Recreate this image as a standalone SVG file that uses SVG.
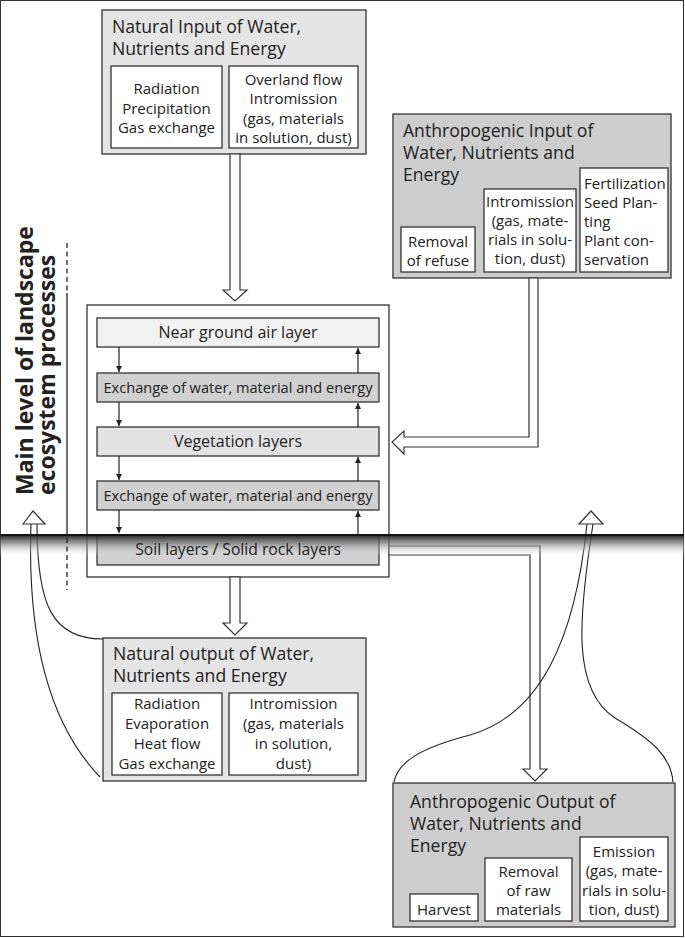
<svg xmlns="http://www.w3.org/2000/svg" width="685" height="938" viewBox="0 0 685 938">
<defs>
  <marker id="ah" viewBox="0 0 10 10" refX="10" refY="5" markerWidth="6" markerHeight="6" markerUnits="userSpaceOnUse" orient="auto">
    <path d="M0,0 L10,5 L0,10 Z" fill="#222"/>
  </marker>
  <linearGradient id="hz" x1="0" y1="0" x2="0" y2="1">
    <stop offset="0" stop-color="#2a2a2a" stop-opacity="0.95"/>
    <stop offset="0.35" stop-color="#777" stop-opacity="0.7"/>
    <stop offset="1" stop-color="#fff" stop-opacity="0"/>
  </linearGradient>
  <style>
    text{font-family:"Open Sans","Noto Sans","Liberation Sans",sans-serif;fill:#222}
    .ttl{font-size:17.6px}
    .in{font-size:15px}
    .c{text-anchor:middle}
    .lay{font-size:16px;text-anchor:middle}
    .ex{font-size:14.6px}
    .soil{font-size:15.7px}
    .bx{stroke:#333;stroke-width:1.3}
    .nat{fill:#e4e4e4}
    .ant{fill:#cdcdcd}
    .wh{fill:#fff}
    .air{fill:#f1f1f1}
    .exc{fill:#d0d0d0}
    .veg{fill:#e2e2e2}
    .ha{fill:#fff;stroke:#333;stroke-width:1.2}
    .cv{fill:none;stroke:#222;stroke-width:1.1}
    .sm{stroke:#222;stroke-width:1.2;fill:none}
    .side{font-size:23px;font-weight:bold}
  </style>
</defs>
<rect x="0.5" y="0.5" width="683" height="936" fill="#fff" stroke="#333" stroke-width="1"/>

<g id="natural-input">
  <rect class="bx nat" x="102" y="10" width="264" height="144"/>
  <text class="ttl" x="112" y="33">Natural Input of Water,</text>
  <text class="ttl" x="112" y="55">Nutrients and Energy</text>
  <rect class="bx wh" x="111" y="66" width="111" height="82"/>
  <text class="in c" x="166.5" y="94">Radiation</text>
  <text class="in c" x="166.5" y="113.5">Precipitation</text>
  <text class="in c" x="166.5" y="133">Gas exchange</text>
  <rect class="bx wh" x="229" y="66" width="129" height="82"/>
  <text class="in c" x="293.5" y="85">Overland flow</text>
  <text class="in c" x="293.5" y="104">Intromission</text>
  <text class="in c" x="293.5" y="123.5">(gas, materials</text>
  <text class="in c" x="293.5" y="143">in solution, dust)</text>
</g>

<g id="anthropogenic-input">
  <rect class="bx ant" x="393" y="114" width="278" height="164"/>
  <text class="ttl" x="403" y="137">Anthropogenic Input of</text>
  <text class="ttl" x="403" y="159">Water, Nutrients and</text>
  <text class="ttl" x="403" y="181">Energy</text>
  <rect class="bx wh" x="401" y="227" width="74" height="45"/>
  <text class="in c" x="438" y="247">Removal</text>
  <text class="in c" x="438" y="266">of refuse</text>
  <rect class="bx wh" x="484" y="189" width="92" height="83"/>
  <text class="in c" x="530" y="207">Intromission</text>
  <text class="in c" x="530" y="226">(gas, mate-</text>
  <text class="in c" x="530" y="245">rials in solu-</text>
  <text class="in c" x="530" y="264">tion, dust)</text>
  <rect class="bx wh" x="580" y="168" width="88" height="104"/>
  <text class="in" x="584" y="189">Fertilization</text>
  <text class="in" x="584" y="208">Seed Plan-</text>
  <text class="in" x="584" y="227">ting</text>
  <text class="in" x="584" y="246">Plant con-</text>
  <text class="in" x="584" y="265">servation</text>
</g>

<g id="landscape-layers">
  <rect class="bx wh" x="87" y="305" width="302" height="272"/>
  <g id="near-ground-air-layer">
    <rect class="bx air" x="97" y="318" width="282" height="29"/>
    <text class="lay" x="238" y="338">Near ground air layer</text>
  </g>
  <g id="exchange-upper">
    <rect class="bx exc" x="97" y="373" width="282" height="29"/>
    <text class="lay ex" x="238" y="393">Exchange of water, material and energy</text>
  </g>
  <g id="vegetation-layers">
    <rect class="bx veg" x="97" y="427" width="282" height="29"/>
    <text class="lay" x="238" y="447">Vegetation layers</text>
  </g>
  <g id="exchange-lower">
    <rect class="bx exc" x="97" y="481" width="282" height="29"/>
    <text class="lay ex" x="238" y="501">Exchange of water, material and energy</text>
  </g>
  <g id="soil-layers">
    <rect class="bx exc" x="97" y="535" width="282" height="30"/>
  </g>
</g>

<g id="natural-output">
  <rect class="bx nat" x="103" y="638" width="263" height="143"/>
  <text class="ttl" x="113" y="660">Natural output of Water,</text>
  <text class="ttl" x="113" y="682">Nutrients and Energy</text>
  <rect class="bx wh" x="112" y="693" width="110" height="82"/>
  <text class="in c" x="167" y="709">Radiation</text>
  <text class="in c" x="167" y="729">Evaporation</text>
  <text class="in c" x="167" y="749">Heat flow</text>
  <text class="in c" x="167" y="769">Gas exchange</text>
  <rect class="bx wh" x="229" y="693" width="129" height="82"/>
  <text class="in c" x="293.5" y="709">Intromission</text>
  <text class="in c" x="293.5" y="729">(gas, materials</text>
  <text class="in c" x="293.5" y="749">in solution,</text>
  <text class="in c" x="293.5" y="769">dust)</text>
</g>

<g id="anthropogenic-output">
  <rect class="bx ant" x="393" y="783" width="282" height="144"/>
  <text class="ttl" x="410" y="808">Anthropogenic Output of</text>
  <text class="ttl" x="410" y="830">Water, Nutrients and</text>
  <text class="ttl" x="410" y="852">Energy</text>
  <rect class="bx wh" x="410" y="894" width="68" height="27"/>
  <text class="in c" x="444" y="915">Harvest</text>
  <rect class="bx wh" x="485" y="858" width="87" height="63"/>
  <text class="in c" x="528.5" y="877">Removal</text>
  <text class="in c" x="528.5" y="896">of raw</text>
  <text class="in c" x="528.5" y="915">materials</text>
  <rect class="bx wh" x="580" y="837" width="88" height="84"/>
  <text class="in c" x="624" y="857">Emission</text>
  <text class="in c" x="624" y="876">(gas, mate-</text>
  <text class="in c" x="624" y="896">rials in solu-</text>
  <text class="in c" x="624" y="915">tion, dust)</text>
</g>

<g id="connectors">
  <polygon class="ha" points="230,154 230,290 223,290 235,301 247,290 240,290 240,154"/>
  <polygon class="ha" points="529,278 529,437 404,437 404,431 392,442 404,454 404,447 538,447 538,278"/>
  <polygon class="ha" points="230,577 230,623 223,623 235,635 247,623 240,623 240,577"/>
  <polygon class="ha" points="389,546 540,546 540,769 547,769 535,781 523,769 530,769 530,555 389,555"/>
  <path class="sm" d="M119,347 V372" marker-end="url(#ah)"/>
  <path class="sm" d="M119,402 V426" marker-end="url(#ah)"/>
  <path class="sm" d="M119,456 V480" marker-end="url(#ah)"/>
  <path class="sm" d="M119,510 V533" marker-end="url(#ah)"/>
  <path class="sm" d="M358,373 V348" marker-end="url(#ah)"/>
  <path class="sm" d="M358,427 V403" marker-end="url(#ah)"/>
  <path class="sm" d="M358,481 V457" marker-end="url(#ah)"/>
  <path class="sm" d="M358,535 V511" marker-end="url(#ah)"/>
  <path class="cv" d="M31,524 C27,640 50,725 100,777"/>
  <path class="cv" d="M37,524 C37,605 52,639 103,639"/>
  <path class="ha" d="M23,524 L33,511 L45,524 Z"/>
  <path class="cv" d="M587,524 C575,640 540,715 470,735 C420,748 398,762 394,782"/>
  <path class="cv" d="M593,524 C578,620 572,690 615,718 C652,740 671,756 673,782"/>
  <path class="ha" d="M579,524 L591,511 L603,524 Z"/>
</g>

<g id="horizon">
  <rect x="0" y="536" width="684" height="21" fill="url(#hz)"/>
  <line x1="0" y1="535" x2="684" y2="535" stroke="#111" stroke-width="2"/>
  <text class="lay soil" x="238" y="555">Soil layers / Solid rock layers</text>
</g>

<g id="level-marker">
  <line x1="67" y1="243" x2="67" y2="293" stroke="#222" stroke-width="1.3" stroke-dasharray="5,3.5"/>
  <line x1="67" y1="293" x2="67" y2="535" stroke="#222" stroke-width="1.3"/>
  <line x1="67" y1="538" x2="67" y2="590" stroke="#222" stroke-width="1.3" stroke-dasharray="5,3.5"/>
  <text class="side" transform="translate(33,495) rotate(-90)">Main level of landscape</text>
  <text class="side" transform="translate(55,495) rotate(-90)">ecosystem processes</text>
</g>
</svg>
